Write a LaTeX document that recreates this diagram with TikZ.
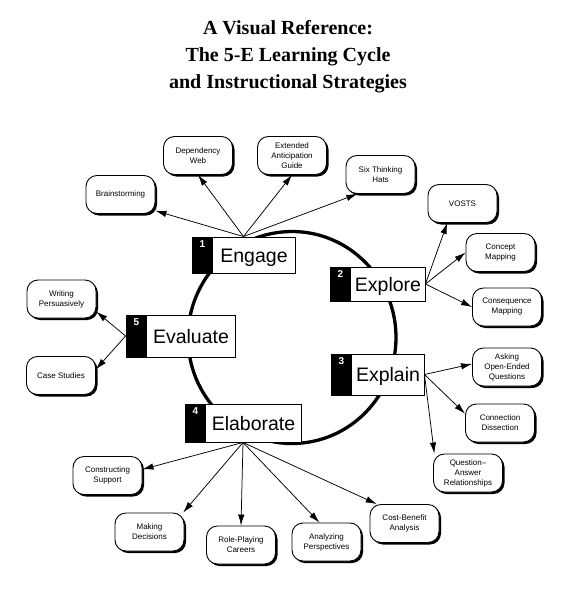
\documentclass[tikz,border=0pt]{standalone}
\usepackage{fontspec}
\setmainfont{Liberation Sans}
\newfontfamily\titlefont{Liberation Serif}
\usetikzlibrary{arrows.meta,shadows}
\tikzset{
  leaf/.style={draw, line width=0.9pt, rounded corners=11pt, fill=white,
    minimum width=69pt, minimum height=38pt, inner sep=1pt, align=center,
    font=\fontsize{8}{10}\selectfont,
    drop shadow={shadow xshift=2pt, shadow yshift=-2pt, opacity=1, fill=black}},
  stagebox/.style={draw, line width=0.9pt, fill=white, inner sep=0pt},
  stagenum/.style={text=white, font=\bfseries\fontsize{10}{10}\selectfont, inner sep=0pt},
  stagetxt/.style={font=\fontsize{19.5}{20}\selectfont, inner sep=0pt, anchor=base},
  arr/.style={-{Latex[length=11pt,width=6.5pt]}, line width=0.75pt},
  cyc/.style={line width=3.3pt},
  titletxt/.style={font=\titlefont\bfseries\fontsize{20}{24}\selectfont, anchor=base, inner sep=0pt}
}
% #1 name, #2 number, #3 text, #4 left, #5 right, #6 top, #7 bottom
\newcommand{\mystage}[7]{%
  \node[stagebox, minimum width={(#5)-(#4)}, minimum height={(#7)-(#6)}] (#1) at ({((#4)+(#5))/2},{((#6)+(#7))/2}) {};
  \fill[black] ({#4},{#6}) rectangle ({#4+21},{#7});
  \node[stagenum, anchor=north] (#1n) at ({#4+10.5},{#6+3.5}) {#2};
  \node[stagetxt] (#1t) at ({((#4)+21+(#5))/2},{((#6)+(#7))/2+7}) {#3};
}
\begin{document}
\begin{tikzpicture}[x=1pt,y=-1pt]
\useasboundingbox (0,0) rectangle (576,600);
\node[titletxt] (t1) at (288,34) {A Visual Reference:};
\node[titletxt] (t2) at (288,61) {The 5-E Learning Cycle};
\node[titletxt] (t3) at (288,88) {and Instructional Strategies};

\draw[cyc] (292,337.5) ellipse [x radius=104pt, y radius=106pt];

\mystage{engage}{1}{Engage}{192}{295}{237}{273}
\mystage{explore}{2}{Explore}{330}{425}{267}{301}
\mystage{explain}{3}{Explain}{331}{424}{354}{395}
\mystage{elaborate}{4}{Elaborate}{185}{301}{404}{442}
\mystage{evaluate}{5}{Evaluate}{126}{235}{315}{357}

\node[leaf] (brain) at (120.5,194.5) {Brainstorming};
\node[leaf] (dep) at (198,155.5) {Dependency\\Web};
\node[leaf] (ext) at (292,155.5) {Extended\\Anticipation\\Guide};
\node[leaf] (hats) at (380.5,174.5) {Six Thinking\\Hats};
\node[leaf] (vosts) at (462.5,203.5) {VOSTS};
\node[leaf] (concept) at (500.5,252.5) {Concept\\Mapping};
\node[leaf] (conseq) at (507,307) {Consequence\\Mapping};
\node[leaf] (writing) at (61.5,299) {Writing\\Persuasively};
\node[leaf] (case) at (61,375.5) {Case Studies};
\node[leaf] (asking) at (507,367) {Asking\\Open-Ended\\Questions};
\node[leaf] (conn) at (500,423) {Connection\\Dissection};
\node[leaf] (qar) at (468,473) {Question--\\Answer\\Relationships};
\node[leaf] (cons) at (107.5,475.5) {Constructing\\Support};
\node[leaf] (making) at (149.5,532) {Making\\Decisions};
\node[leaf] (role) at (241,545) {Role-Playing\\Careers};
\node[leaf] (anal) at (326.5,542) {Analyzing\\Perspectives};
\node[leaf] (cost) at (404.5,523.5) {Cost-Benefit\\Analysis};

\draw[arr] (engage.north) -- (brain.-25);
\draw[arr] (engage.north) -- (dep.south);
\draw[arr] (engage.north) -- (ext.south);
\draw[arr] (engage.north) -- (hats.-140);
\draw[arr] (explore.east) -- (vosts.-128);
\draw[arr] (explore.east) -- (concept.west);
\draw[arr] (explore.east) -- (conseq.west);
\draw[arr] (evaluate.west) -- (writing.-20);
\draw[arr] (evaluate.west) -- (case.10);
\draw[arr] (explain.east) -- (asking.175);
\draw[arr] (explain.east) -- (conn.165);
\draw[arr] (explain.east) -- (qar.150);
\draw[arr] (elaborate.south) -- (cons.10);
\draw[arr] (elaborate.south) -- (making.30);
\draw[arr] (elaborate.south) -- (role.north);
\draw[arr] (elaborate.south) -- (anal.110);
\draw[arr] (elaborate.south) -- (cost.145);
\end{tikzpicture}
\end{document}
